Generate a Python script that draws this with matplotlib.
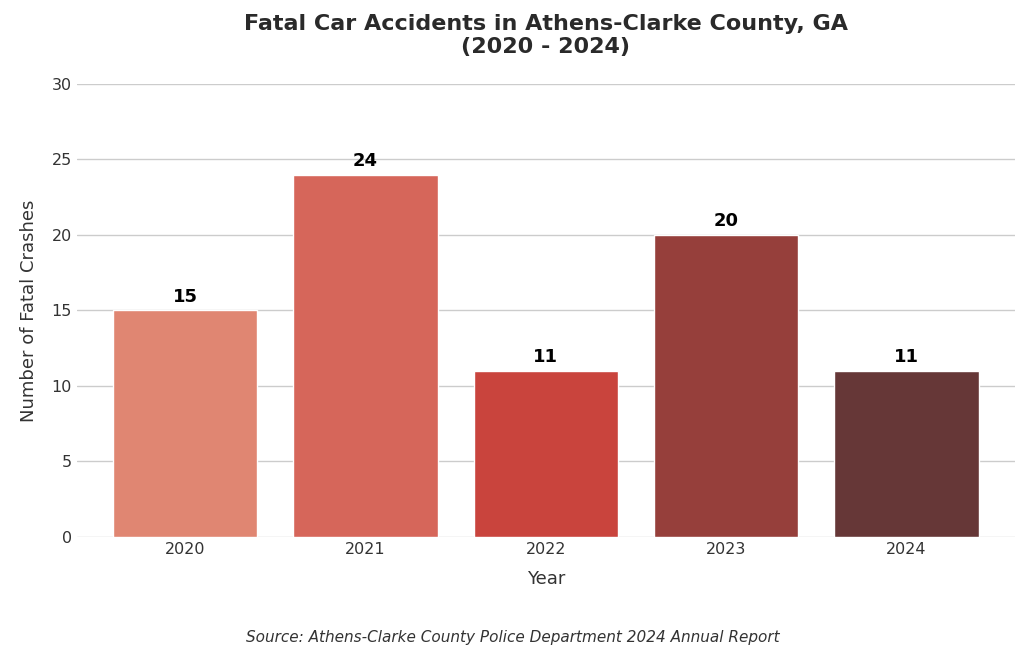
import matplotlib
matplotlib.use("Agg")
import matplotlib.pyplot as plt
import seaborn as sns

years = ["2020", "2021", "2022", "2023", "2024"]
crashes = [15, 24, 11, 20, 11]
colors = ["#e08672", "#d6665a", "#c9443d", "#963f3b", "#663737"]

sns.set_style("whitegrid")
plt.rcParams['font.family'] = ['DejaVu Sans']
fig = plt.figure(figsize=(10.25, 6.61), dpi=100)
ax = fig.add_axes([0.075, 0.188, 0.915, 0.685])
bars = ax.bar(years, crashes, color=colors, width=0.8)
for b, v in zip(bars, crashes):
    ax.text(b.get_x() + b.get_width()/2, v + 0.3, str(v), ha="center", va="bottom",
            fontsize=13, fontweight="bold", color="black")
ax.set_ylim(0, 30)
ax.set_xlim(-0.6, 4.6)
ax.set_yticks(range(0, 31, 5))
ax.grid(axis="x", visible=False)
ax.grid(axis="y", color="#cccccc", linewidth=1)
for s in ax.spines.values():
    s.set_visible(False)
ax.tick_params(axis="both", labelsize=11.5, colors="#333333", length=0)
ax.set_xlabel("Year", fontsize=13, color="#333333", labelpad=10)
ax.set_ylabel("Number of Fatal Crashes", fontsize=13, color="#333333", labelpad=10)
ax.set_title("Fatal Car Accidents in Athens-Clarke County, GA\n(2020 - 2024)",
             fontsize=16, fontweight="bold", color="#2a2a2a", pad=22)
fig.text(0.5, 0.028, "Source: Athens-Clarke County Police Department 2024 Annual Report",
         ha="center", fontsize=11, style="italic", color="#333333")
fig.savefig("out.png", dpi=100)
